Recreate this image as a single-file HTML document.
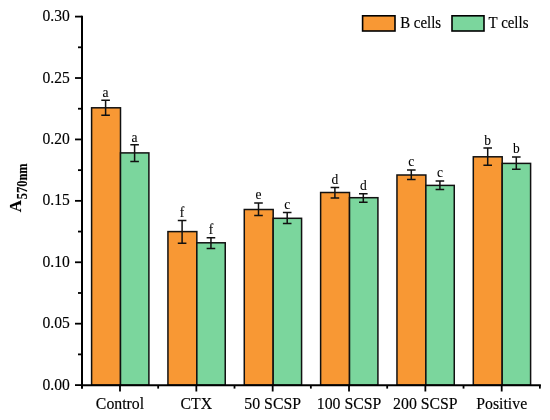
<!DOCTYPE html>
<html><head><meta charset="utf-8"><style>
html,body{margin:0;padding:0;background:#fff;width:550px;height:420px;overflow:hidden}
svg{display:block}
text{font-family:'Liberation Serif', 'Times New Roman', serif;fill:#000;stroke:#000;stroke-width:0.15px}
.lab{stroke-width:0.08px}
.yt{font-size:15.5px;text-anchor:end}
.xt{font-size:15px;text-anchor:middle}
.lg{font-size:15px}
.yl{font-size:18px;font-weight:bold}
</style></head><body>
<svg width="550" height="420" viewBox="0 0 550 420">
<rect x="91.60" y="107.80" width="28.90" height="277.40" fill="#F89834" stroke="#111" stroke-width="1.5"/>
<rect x="120.50" y="152.90" width="28.40" height="232.30" fill="#7BD69D" stroke="#111" stroke-width="1.5"/>
<rect x="167.94" y="231.60" width="28.90" height="153.60" fill="#F89834" stroke="#111" stroke-width="1.5"/>
<rect x="196.84" y="242.80" width="28.40" height="142.40" fill="#7BD69D" stroke="#111" stroke-width="1.5"/>
<rect x="244.28" y="209.50" width="28.90" height="175.70" fill="#F89834" stroke="#111" stroke-width="1.5"/>
<rect x="273.18" y="218.30" width="28.40" height="166.90" fill="#7BD69D" stroke="#111" stroke-width="1.5"/>
<rect x="320.62" y="192.50" width="28.90" height="192.70" fill="#F89834" stroke="#111" stroke-width="1.5"/>
<rect x="349.52" y="197.70" width="28.40" height="187.50" fill="#7BD69D" stroke="#111" stroke-width="1.5"/>
<rect x="396.96" y="175.00" width="28.90" height="210.20" fill="#F89834" stroke="#111" stroke-width="1.5"/>
<rect x="425.86" y="185.40" width="28.40" height="199.80" fill="#7BD69D" stroke="#111" stroke-width="1.5"/>
<rect x="473.30" y="156.80" width="28.90" height="228.40" fill="#F89834" stroke="#111" stroke-width="1.5"/>
<rect x="502.20" y="163.40" width="28.40" height="221.80" fill="#7BD69D" stroke="#111" stroke-width="1.5"/>
<path d="M105.60 100.20V115.20M101.30 100.20h8.6M101.30 115.20h8.6" stroke="#111" stroke-width="1.5" fill="none"/>
<text transform="translate(105.60 97.00) scale(1.0 1.1)" font-size="13.5" text-anchor="middle" class="lab">a</text>
<path d="M134.60 144.70V161.50M130.30 144.70h8.6M130.30 161.50h8.6" stroke="#111" stroke-width="1.5" fill="none"/>
<text transform="translate(134.60 141.60) scale(1.0 1.1)" font-size="13.5" text-anchor="middle" class="lab">a</text>
<path d="M182.10 220.50V243.30M177.80 220.50h8.6M177.80 243.30h8.6" stroke="#111" stroke-width="1.5" fill="none"/>
<text transform="translate(182.10 217.10) scale(1.0 1.1)" font-size="13.5" text-anchor="middle" class="lab">f</text>
<path d="M210.95 237.70V248.40M206.65 237.70h8.6M206.65 248.40h8.6" stroke="#111" stroke-width="1.5" fill="none"/>
<text transform="translate(210.95 233.80) scale(1.0 1.1)" font-size="13.5" text-anchor="middle" class="lab">f</text>
<path d="M258.50 203.00V215.60M254.20 203.00h8.6M254.20 215.60h8.6" stroke="#111" stroke-width="1.5" fill="none"/>
<text transform="translate(258.50 199.40) scale(1.0 1.0120000000000002)" font-size="13.5" text-anchor="middle" class="lab">e</text>
<path d="M287.20 212.60V223.40M282.90 212.60h8.6M282.90 223.40h8.6" stroke="#111" stroke-width="1.5" fill="none"/>
<text transform="translate(287.20 208.70) scale(1.0 1.0120000000000002)" font-size="13.5" text-anchor="middle" class="lab">c</text>
<path d="M334.90 187.60V197.90M330.60 187.60h8.6M330.60 197.90h8.6" stroke="#111" stroke-width="1.5" fill="none"/>
<text transform="translate(334.90 183.80) scale(1.0 1.1)" font-size="13.5" text-anchor="middle" class="lab">d</text>
<path d="M363.30 193.70V202.30M359.00 193.70h8.6M359.00 202.30h8.6" stroke="#111" stroke-width="1.5" fill="none"/>
<text transform="translate(363.30 190.10) scale(1.0 1.1)" font-size="13.5" text-anchor="middle" class="lab">d</text>
<path d="M411.30 170.10V179.40M407.00 170.10h8.6M407.00 179.40h8.6" stroke="#111" stroke-width="1.5" fill="none"/>
<text transform="translate(411.30 166.40) scale(1.0 1.0120000000000002)" font-size="13.5" text-anchor="middle" class="lab">c</text>
<path d="M439.90 181.10V189.40M435.60 181.10h8.6M435.60 189.40h8.6" stroke="#111" stroke-width="1.5" fill="none"/>
<text transform="translate(439.90 177.40) scale(1.0 1.0120000000000002)" font-size="13.5" text-anchor="middle" class="lab">c</text>
<path d="M487.70 147.90V165.30M483.40 147.90h8.6M483.40 165.30h8.6" stroke="#111" stroke-width="1.5" fill="none"/>
<text transform="translate(487.70 144.80) scale(1.0 1.1)" font-size="13.5" text-anchor="middle" class="lab">b</text>
<path d="M516.30 156.90V169.30M512.00 156.90h8.6M512.00 169.30h8.6" stroke="#111" stroke-width="1.5" fill="none"/>
<text transform="translate(516.30 153.10) scale(1.0 1.1)" font-size="13.5" text-anchor="middle" class="lab">b</text>
<path d="M82.0 15.700000000000001V388.8" stroke="#000" stroke-width="2" fill="none"/>
<path d="M81.0 385.2H540.87" stroke="#000" stroke-width="2" fill="none"/>
<path d="M75.0 385.10H82.0" stroke="#000" stroke-width="1.8"/>
<text transform="translate(69.80 389.60) scale(1.0 1.1)" font-size="15.6" text-anchor="end">0.00</text>
<path d="M75.0 323.68H82.0" stroke="#000" stroke-width="1.8"/>
<text transform="translate(69.80 328.18) scale(1.0 1.1)" font-size="15.6" text-anchor="end">0.05</text>
<path d="M75.0 262.27H82.0" stroke="#000" stroke-width="1.8"/>
<text transform="translate(69.80 266.77) scale(1.0 1.1)" font-size="15.6" text-anchor="end">0.10</text>
<path d="M75.0 200.85H82.0" stroke="#000" stroke-width="1.8"/>
<text transform="translate(69.80 205.35) scale(1.0 1.1)" font-size="15.6" text-anchor="end">0.15</text>
<path d="M75.0 139.43H82.0" stroke="#000" stroke-width="1.8"/>
<text transform="translate(69.80 143.93) scale(1.0 1.1)" font-size="15.6" text-anchor="end">0.20</text>
<path d="M75.0 78.02H82.0" stroke="#000" stroke-width="1.8"/>
<text transform="translate(69.80 82.52) scale(1.0 1.1)" font-size="15.6" text-anchor="end">0.25</text>
<path d="M75.0 16.60H82.0" stroke="#000" stroke-width="1.8"/>
<text transform="translate(69.80 21.10) scale(1.0 1.1)" font-size="15.6" text-anchor="end">0.30</text>
<path d="M78.0 354.39H82.0" stroke="#000" stroke-width="1.8"/>
<path d="M78.0 292.98H82.0" stroke="#000" stroke-width="1.8"/>
<path d="M78.0 231.56H82.0" stroke="#000" stroke-width="1.8"/>
<path d="M78.0 170.14H82.0" stroke="#000" stroke-width="1.8"/>
<path d="M78.0 108.72H82.0" stroke="#000" stroke-width="1.8"/>
<path d="M78.0 47.31H82.0" stroke="#000" stroke-width="1.8"/>
<path d="M120.00 385.2V391.5" stroke="#000" stroke-width="1.8"/>
<text transform="translate(120.00 409.20) scale(1.0 1.09)" font-size="15.8" text-anchor="middle">Control</text>
<path d="M196.34 385.2V391.5" stroke="#000" stroke-width="1.8"/>
<text transform="translate(196.34 409.20) scale(1.0 1.09)" font-size="15.8" text-anchor="middle">CTX</text>
<path d="M272.68 385.2V391.5" stroke="#000" stroke-width="1.8"/>
<text transform="translate(272.68 409.20) scale(1.0 1.09)" font-size="15.8" text-anchor="middle">50 SCSP</text>
<path d="M349.02 385.2V391.5" stroke="#000" stroke-width="1.8"/>
<text transform="translate(349.02 409.20) scale(1.0 1.09)" font-size="15.8" text-anchor="middle">100 SCSP</text>
<path d="M425.36 385.2V391.5" stroke="#000" stroke-width="1.8"/>
<text transform="translate(425.36 409.20) scale(1.0 1.09)" font-size="15.8" text-anchor="middle">200 SCSP</text>
<path d="M501.70 385.2V391.5" stroke="#000" stroke-width="1.8"/>
<text transform="translate(501.70 409.20) scale(1.0 1.09)" font-size="15.8" text-anchor="middle">Positive</text>
<path d="M158.17 385.2V388.59999999999997" stroke="#000" stroke-width="1.8"/>
<path d="M234.51 385.2V388.59999999999997" stroke="#000" stroke-width="1.8"/>
<path d="M310.85 385.2V388.59999999999997" stroke="#000" stroke-width="1.8"/>
<path d="M387.19 385.2V388.59999999999997" stroke="#000" stroke-width="1.8"/>
<path d="M463.53 385.2V388.59999999999997" stroke="#000" stroke-width="1.8"/>
<path d="M539.87 385.2V388.59999999999997" stroke="#000" stroke-width="1.8"/>
<rect x="362.6" y="15.8" width="32.4" height="15.2" fill="#F89834" stroke="#000" stroke-width="1.6"/>
<text transform="translate(400.20 28.10) scale(1.0 1.1)" font-size="14.9">B cells</text>
<rect x="452.0" y="15.8" width="32.0" height="15.2" fill="#7BD69D" stroke="#000" stroke-width="1.6"/>
<text transform="translate(488.60 28.10) scale(1.0 1.1)" font-size="14.9">T cells</text>
<text transform="translate(21.1 212.3) rotate(-90)" font-size="16.8" font-weight="bold">A</text>
<text transform="translate(27.0 199.2) rotate(-90) scale(1 1.15)" font-size="12.4" font-weight="bold">570nm</text>
</svg>
</body></html>
